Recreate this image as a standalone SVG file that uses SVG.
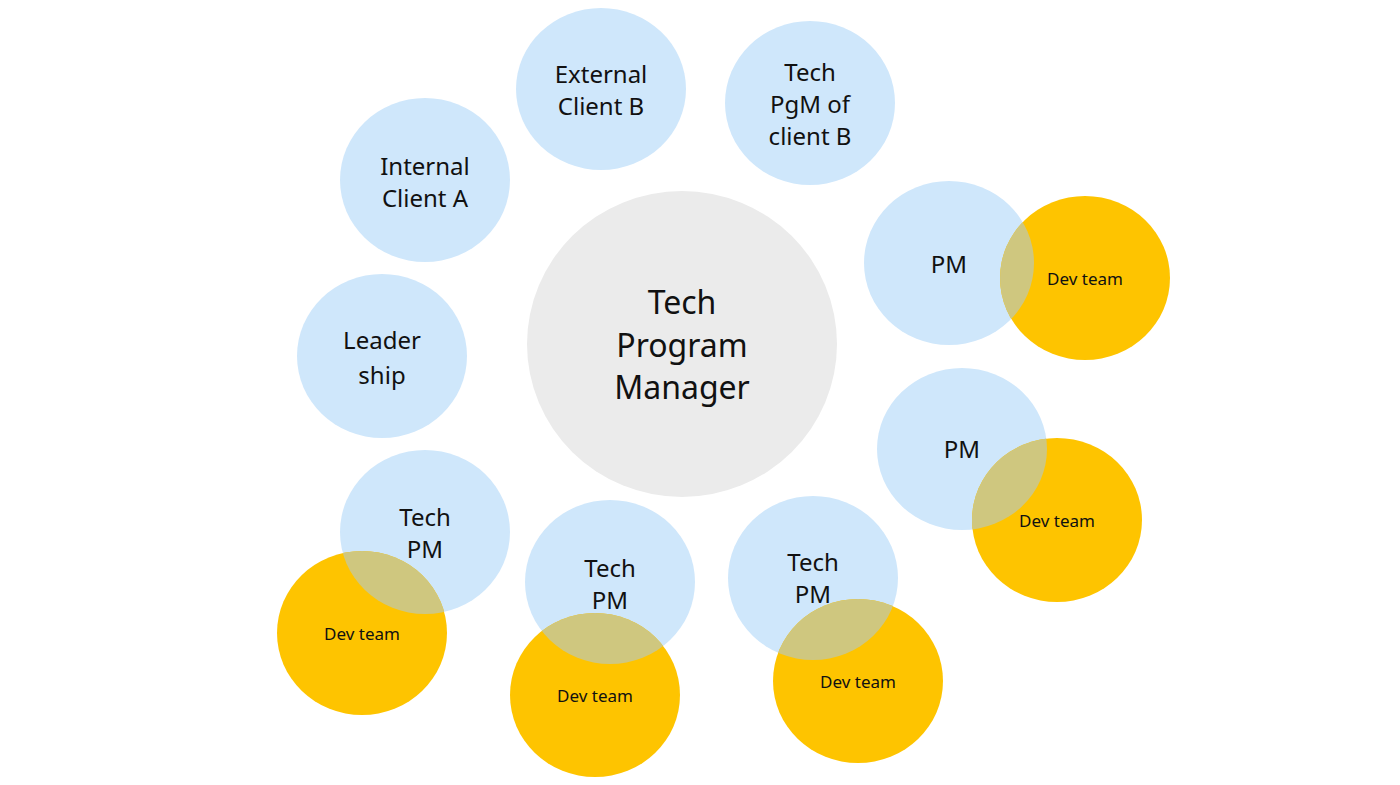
<svg xmlns="http://www.w3.org/2000/svg" width="1400" height="785" viewBox="0 0 1400 785">
<style>
.b{fill:#cfe7fb}.o{fill:#fec400}.x{fill:#cfc77f}
text{font-family:"Noto Sans","Open Sans",sans-serif;fill:#111;text-anchor:middle}
.t{font-size:24px}.d{font-size:17px}.c{font-size:32px}
</style>
<defs>
<clipPath id="c1"><ellipse cx="949" cy="263" rx="85" ry="82"/></clipPath>
<clipPath id="c2"><ellipse cx="962" cy="449" rx="85" ry="81"/></clipPath>
<clipPath id="c3"><ellipse cx="425" cy="532" rx="85" ry="82"/></clipPath>
<clipPath id="c4"><ellipse cx="610" cy="582" rx="85" ry="82"/></clipPath>
<clipPath id="c5"><ellipse cx="813" cy="578" rx="85" ry="82"/></clipPath>
</defs>
<rect width="1400" height="785" fill="#fff"/>
<g id="connectors"/>
<g id="center"><ellipse cx="682" cy="344" rx="155" ry="153" fill="#ebebeb"/><text class="c" x="682" y="314">Tech</text><text class="c" x="682" y="357">Program</text><text class="c" x="682" y="399">Manager</text></g>
<g id="extB"><ellipse class="b" cx="601" cy="89" rx="85" ry="81"/><text class="t" x="601" y="83">External</text><text class="t" x="601" y="115">Client B</text></g>
<g id="pgm"><ellipse class="b" cx="810" cy="103" rx="85" ry="82"/><text class="t" x="810" y="81">Tech</text><text class="t" x="810" y="113">PgM of</text><text class="t" x="810" y="145">client B</text></g>
<g id="intA"><ellipse class="b" cx="425" cy="180" rx="85" ry="82"/><text class="t" x="425" y="175">Internal</text><text class="t" x="425" y="207">Client A</text></g>
<g id="lead"><ellipse class="b" cx="382" cy="356" rx="85" ry="82"/><text class="t" x="382" y="349">Leader</text><text class="t" x="382" y="384">ship</text></g>
<g id="pm1"><ellipse class="b" cx="949" cy="263" rx="85" ry="82"/><ellipse class="o" cx="1085" cy="278" rx="85" ry="82"/><ellipse class="x" cx="1085" cy="278" rx="85" ry="82" clip-path="url(#c1)"/><text class="t" x="949" y="273">PM</text><text class="d" x="1085" y="285">Dev team</text></g>
<g id="pm2"><ellipse class="b" cx="962" cy="449" rx="85" ry="81"/><ellipse class="o" cx="1057" cy="520" rx="85" ry="82"/><ellipse class="x" cx="1057" cy="520" rx="85" ry="82" clip-path="url(#c2)"/><text class="t" x="962" y="458">PM</text><text class="d" x="1057" y="527">Dev team</text></g>
<g id="tpm1"><ellipse class="b" cx="425" cy="532" rx="85" ry="82"/><ellipse class="o" cx="362" cy="633" rx="85" ry="82"/><ellipse class="x" cx="362" cy="633" rx="85" ry="82" clip-path="url(#c3)"/><text class="t" x="425" y="526">Tech</text><text class="t" x="425" y="558">PM</text><text class="d" x="362" y="640">Dev team</text></g>
<g id="tpm2"><ellipse class="b" cx="610" cy="582" rx="85" ry="82"/><ellipse class="o" cx="595" cy="695" rx="85" ry="82"/><ellipse class="x" cx="595" cy="695" rx="85" ry="82" clip-path="url(#c4)"/><text class="t" x="610" y="577">Tech</text><text class="t" x="610" y="609">PM</text><text class="d" x="595" y="702">Dev team</text></g>
<g id="tpm3"><ellipse class="b" cx="813" cy="578" rx="85" ry="82"/><ellipse class="o" cx="858" cy="681" rx="85" ry="82"/><ellipse class="x" cx="858" cy="681" rx="85" ry="82" clip-path="url(#c5)"/><text class="t" x="813" y="571">Tech</text><text class="t" x="813" y="603">PM</text><text class="d" x="858" y="688">Dev team</text></g>
</svg>
